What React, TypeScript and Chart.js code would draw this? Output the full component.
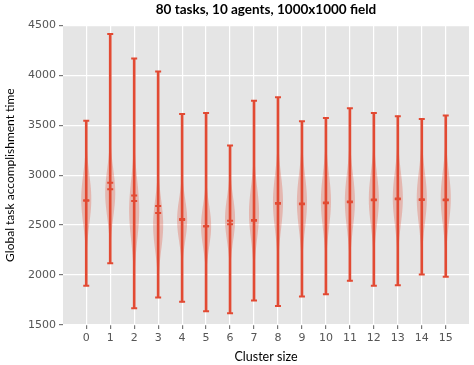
import { useEffect, useRef } from 'react';
import { Chart, registerables } from 'chart.js';

Chart.register(...registerables);

const xPositions = [0, 1, 2, 3, 4, 5, 6, 7, 8, 9, 10, 11, 12, 13, 14, 15];
const xLabels = ['0', '1', '2', '3', '4', '5', '6', '7', '8', '9', '10', '11', '12', '13', '14', '15'];
const yTicks = [1500, 2000, 2500, 3000, 3500, 4000, 4500];

const maxVals = [3545, 4412, 4168, 4037, 3611, 3622, 3297, 3745, 3778, 3538, 3571, 3668, 3622, 3590, 3561, 3596];
const minVals = [1893, 2119, 1668, 1775, 1732, 1638, 1617, 1745, 1691, 1784, 1808, 1942, 1893, 1898, 2005, 1984];
const meanVals = [2746, 2923, 2796, 2691, 2560, 2487, 2544, 2550, 2721, 2715, 2725, 2735, 2755, 2765, 2758, 2755];
const medianVals = [2746, 2859, 2742, 2621, 2550, 2487, 2507, 2543, 2714, 2708, 2718, 2728, 2748, 2758, 2751, 2748];

// violin body profile (peak and spread of the density)
const densityCenter = [2760, 2820, 2650, 2500, 2550, 2490, 2560, 2620, 2730, 2730, 2740, 2740, 2760, 2770, 2770, 2770];
const densitySpread = [250, 240, 300, 250, 210, 210, 220, 260, 270, 270, 270, 270, 260, 260, 260, 260];

const RED = '#E24A33';
const VIOLIN_FILL = 'rgba(226,74,51,0.3)';

export default function App() {
  const ref = useRef<HTMLCanvasElement>(null);

  useEffect(() => {
    if (!ref.current) return;

    const violinPlugin = {
      id: 'violins',
      beforeDraw(chart: any) {
        const { ctx, chartArea } = chart;
        ctx.save();
        ctx.fillStyle = '#E5E5E5';
        ctx.fillRect(chartArea.left, chartArea.top, chartArea.right - chartArea.left, chartArea.bottom - chartArea.top);
        ctx.restore();
      },
      beforeDatasetsDraw(chart: any) {
        const { ctx } = chart;
        const xs = chart.scales.x;
        const ys = chart.scales.y;
        ctx.save();
        ctx.fillStyle = VIOLIN_FILL;
        xPositions.forEach((pos, i) => {
          const lo = minVals[i];
          const hi = maxVals[i];
          const c = densityCenter[i];
          const s = densitySpread[i];
          const steps = 80;
          const right: [number, number][] = [];
          const left: [number, number][] = [];
          for (let k = 0; k <= steps; k++) {
            const v = lo + ((hi - lo) * k) / steps;
            const hw = 0.21 * Math.exp(-0.5 * ((v - c) / s) ** 2);
            right.push([xs.getPixelForValue(pos + hw), ys.getPixelForValue(v)]);
            left.push([xs.getPixelForValue(pos - hw), ys.getPixelForValue(v)]);
          }
          ctx.beginPath();
          right.forEach(([px, py], k) => (k === 0 ? ctx.moveTo(px, py) : ctx.lineTo(px, py)));
          for (let k = left.length - 1; k >= 0; k--) ctx.lineTo(left[k][0], left[k][1]);
          ctx.closePath();
          ctx.fill();
        });
        ctx.restore();
      },
    };

    const pts = (arr: number[]) => xPositions.map((x, i) => ({ x, y: arr[i] }));
    const lineMark = (arr: number[]) => ({
      type: 'scatter' as const,
      data: pts(arr),
      pointStyle: 'line',
      radius: 3,
      hoverRadius: 3,
      borderColor: RED,
      backgroundColor: RED,
      borderWidth: 2,
    });

    const chart = new Chart(ref.current, {
      type: 'bar',
      data: {
        datasets: [
          {
            type: 'bar',
            data: xPositions.map((x, i) => ({ x, y: [minVals[i], maxVals[i]] })) as any,
            backgroundColor: RED,
            barThickness: 2,
            grouped: false,
          } as any,
          lineMark(minVals) as any,
          lineMark(maxVals) as any,
          lineMark(meanVals) as any,
          lineMark(medianVals) as any,
        ],
      },
      plugins: [violinPlugin],
      options: {
        animation: false,
        responsive: false,
        events: [],
        layout: { padding: { left: 0, right: 4, top: 0, bottom: 0 } },
        plugins: {
          legend: { display: false },
          tooltip: { enabled: false },
          title: {
            display: true,
            fullSize: false,
            text: '80 tasks, 10 agents, 1000x1000 field',
            color: '#000',
            font: { family: 'Lato', size: 13.5, weight: 'bold' },
            padding: { top: 2, bottom: 7 },
          },
        },
        scales: {
          x: {
            type: 'linear',
            offset: false,
            min: -0.97,
            max: 15.97,
            afterBuildTicks: (scale: any) => {
              scale.ticks = xPositions.map((v) => ({ value: v }));
            },
            afterFit: (scale: any) => {
              scale.height = 40;
            },
            ticks: {
              autoSkip: false,
              maxRotation: 0,
              padding: 3,
              color: '#555',
              font: { family: 'DejaVu Sans', size: 11 },
              callback: (v: any) => xLabels[xPositions.indexOf(Number(v))],
            },
            grid: { offset: false, color: '#FFFFFF', lineWidth: 1.2, tickColor: '#777', tickLength: 4 },
            border: { display: false },
            title: {
              display: true,
              text: 'Cluster size',
              color: '#000',
              font: { family: 'Lato', size: 12.5 },
              padding: { top: 0, bottom: 1 },
            },
          },
          y: {
            type: 'linear',
            min: 1500,
            max: 4500,
            afterBuildTicks: (scale: any) => {
              scale.ticks = yTicks.map((v) => ({ value: v }));
            },
            afterFit: (scale: any) => {
              scale.width = 63;
            },
            ticks: {
              padding: 3,
              color: '#555',
              font: { family: 'DejaVu Sans', size: 11 },
              callback: (v: any) => String(v),
            },
            grid: { color: '#FFFFFF', lineWidth: 1.2, tickColor: '#777', tickLength: 4 },
            border: { display: false },
            title: {
              display: true,
              text: 'Global task accomplishment time',
              color: '#000',
              font: { family: 'Lato', size: 12 },
              padding: { top: 3, bottom: 0 },
            },
          },
        },
      } as any,
    });

    return () => chart.destroy();
  }, []);

  return (
    <div style={{ position: 'absolute', left: 0, top: 0, width: 474, height: 365, background: '#fff' }}>
      <canvas ref={ref} width={474} height={365} style={{ display: 'block' }} />
    </div>
  );
}
